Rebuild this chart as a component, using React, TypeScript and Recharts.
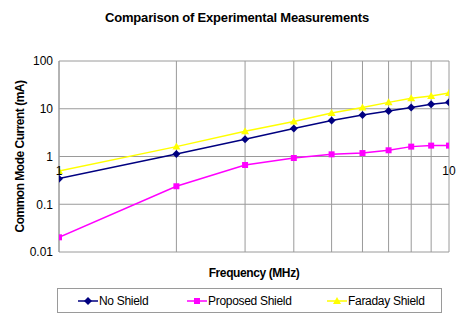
import { CartesianGrid, Legend, Line, LineChart, ReferenceDot, XAxis, YAxis } from 'recharts'

const FREQUENCIES = [1, 2, 3, 4, 5, 6, 7, 8, 9, 10]
const NO_SHIELD = [0.344, 1.13, 2.29, 3.84, 5.65, 7.4, 8.97, 10.6, 12.4, 13.6]
const PROPOSED_SHIELD = [0.0203, 0.238, 0.664, 0.93, 1.11, 1.18, 1.35, 1.61, 1.69, 1.69]
const FARADAY_SHIELD = [0.497, 1.61, 3.37, 5.38, 8.15, 10.6, 13.6, 16.6, 18.5, 21.4]
const Y_TICKS = [0.01, 0.1, 1, 10, 100]
const X_LABELS = [1, 10]

type Shape = 'diamond' | 'square' | 'triangle'

const SERIES: { key: string; label: string; color: string; shape: Shape }[] = [
  { key: 'noShield', label: 'No Shield', color: '#000080', shape: 'diamond' },
  { key: 'proposed', label: 'Proposed Shield', color: '#ff00ff', shape: 'square' },
  { key: 'faraday', label: 'Faraday Shield', color: '#ffff00', shape: 'triangle' },
]

const rows = FREQUENCIES.map((freq, index) => ({
  freq,
  noShield: NO_SHIELD[index],
  proposed: PROPOSED_SHIELD[index],
  faraday: FARADAY_SHIELD[index],
}))

const FONT = '"Liberation Sans", Arial, sans-serif'
const GRID = '#9a9a9a'

function Marker({ cx, cy, shape, color }: { cx?: number; cy?: number; shape: Shape; color: string }) {
  if (cx == null || cy == null) return null
  if (shape === 'diamond') {
    return <polygon points={`${cx},${cy - 4} ${cx + 4},${cy} ${cx},${cy + 4} ${cx - 4},${cy}`} fill={color} />
  }
  if (shape === 'square') {
    return <rect x={cx - 3} y={cy - 3} width={6} height={6} fill={color} />
  }
  return <polygon points={`${cx},${cy - 4} ${cx + 4},${cy + 3} ${cx - 4},${cy + 3}`} fill={color} />
}

function LegendBox() {
  const widths = [109, 140, 110]
  return (
    <div
      style={{
        boxSizing: 'border-box',
        height: 25,
        border: '1px solid #9a9a9a',
        display: 'flex',
        alignItems: 'center',
        paddingLeft: 20,
        fontFamily: FONT,
        fontSize: 12,
        color: '#000',
      }}
    >
      {SERIES.map((series, index) => (
        <div key={series.key} style={{ width: widths[index], display: 'flex', alignItems: 'center' }}>
          <svg width={20} height={10} style={{ marginRight: 1 }}>
            <line x1={0} y1={5} x2={20} y2={5} stroke={series.color} strokeWidth={1.5} />
            <Marker cx={10} cy={5} shape={series.shape} color={series.color} />
          </svg>
          <span style={{ whiteSpace: 'nowrap', letterSpacing: -0.3 }}>{series.label}</span>
        </div>
      ))}
    </div>
  )
}

export default function App() {
  return (
    <div style={{ position: 'absolute', left: 0, top: 0, width: 474, height: 323, fontFamily: FONT, background: '#fff' }}>
      <div
        style={{
          position: 'absolute',
          top: 10,
          left: 0,
          width: 474,
          textAlign: 'center',
          fontSize: 13,
          fontWeight: 'bold',
          letterSpacing: -0.2,
        }}
      >
        Comparison of Experimental Measurements
      </div>
      <LineChart width={474} height={323} data={rows} margin={{ top: 61, right: 25, bottom: 10, left: 0 }}>
        <CartesianGrid stroke={GRID} strokeWidth={1} />
        <XAxis
          dataKey="freq"
          type="number"
          scale="log"
          domain={[1, 10]}
          ticks={FREQUENCIES}
          allowDataOverflow
          tick={() => <g />}
          tickLine={false}
          axisLine={false}
          height={36}
          label={{
            value: 'Frequency (MHz)',
            position: 'insideBottom',
            offset: 11,
            style: { fontSize: 12, fontWeight: 'bold', fill: '#000', letterSpacing: -0.4 },
          }}
        />
        <YAxis
          type="number"
          scale="log"
          domain={[0.01, 100]}
          ticks={Y_TICKS}
          allowDataOverflow
          width={59}
          tickLine={false}
          tickSize={4}
          tickMargin={2}
          axisLine={{ stroke: GRID }}
          tick={{ fontSize: 12, fill: '#000' }}
          label={{
            value: 'Common Mode Current (mA)',
            angle: -90,
            position: 'insideLeft',
            offset: 20,
            style: { textAnchor: 'middle', fontSize: 12, fontWeight: 'bold', fill: '#000', letterSpacing: -0.5 },
          }}
        />
        {X_LABELS.map((value) => (
          <ReferenceDot
            key={value}
            x={value}
            y={1}
            r={0}
            stroke="none"
            fill="none"
            label={{ value: String(value), position: 'bottom', offset: 10, style: { fontSize: 12, fill: '#000' } }}
          />
        ))}
        <Legend verticalAlign="bottom" wrapperStyle={{ left: 57, width: 385, height: 25 }} content={() => <LegendBox />} />
        {SERIES.map((series) => (
          <Line
            key={series.key}
            type="linear"
            dataKey={series.key}
            name={series.label}
            stroke={series.color}
            strokeWidth={1.5}
            dot={(props: any) => (
              <Marker key={`${series.key}-${props.index}`} cx={props.cx} cy={props.cy} shape={series.shape} color={series.color} />
            )}
            activeDot={false}
            isAnimationActive={false}
          />
        ))}
      </LineChart>
    </div>
  )
}
